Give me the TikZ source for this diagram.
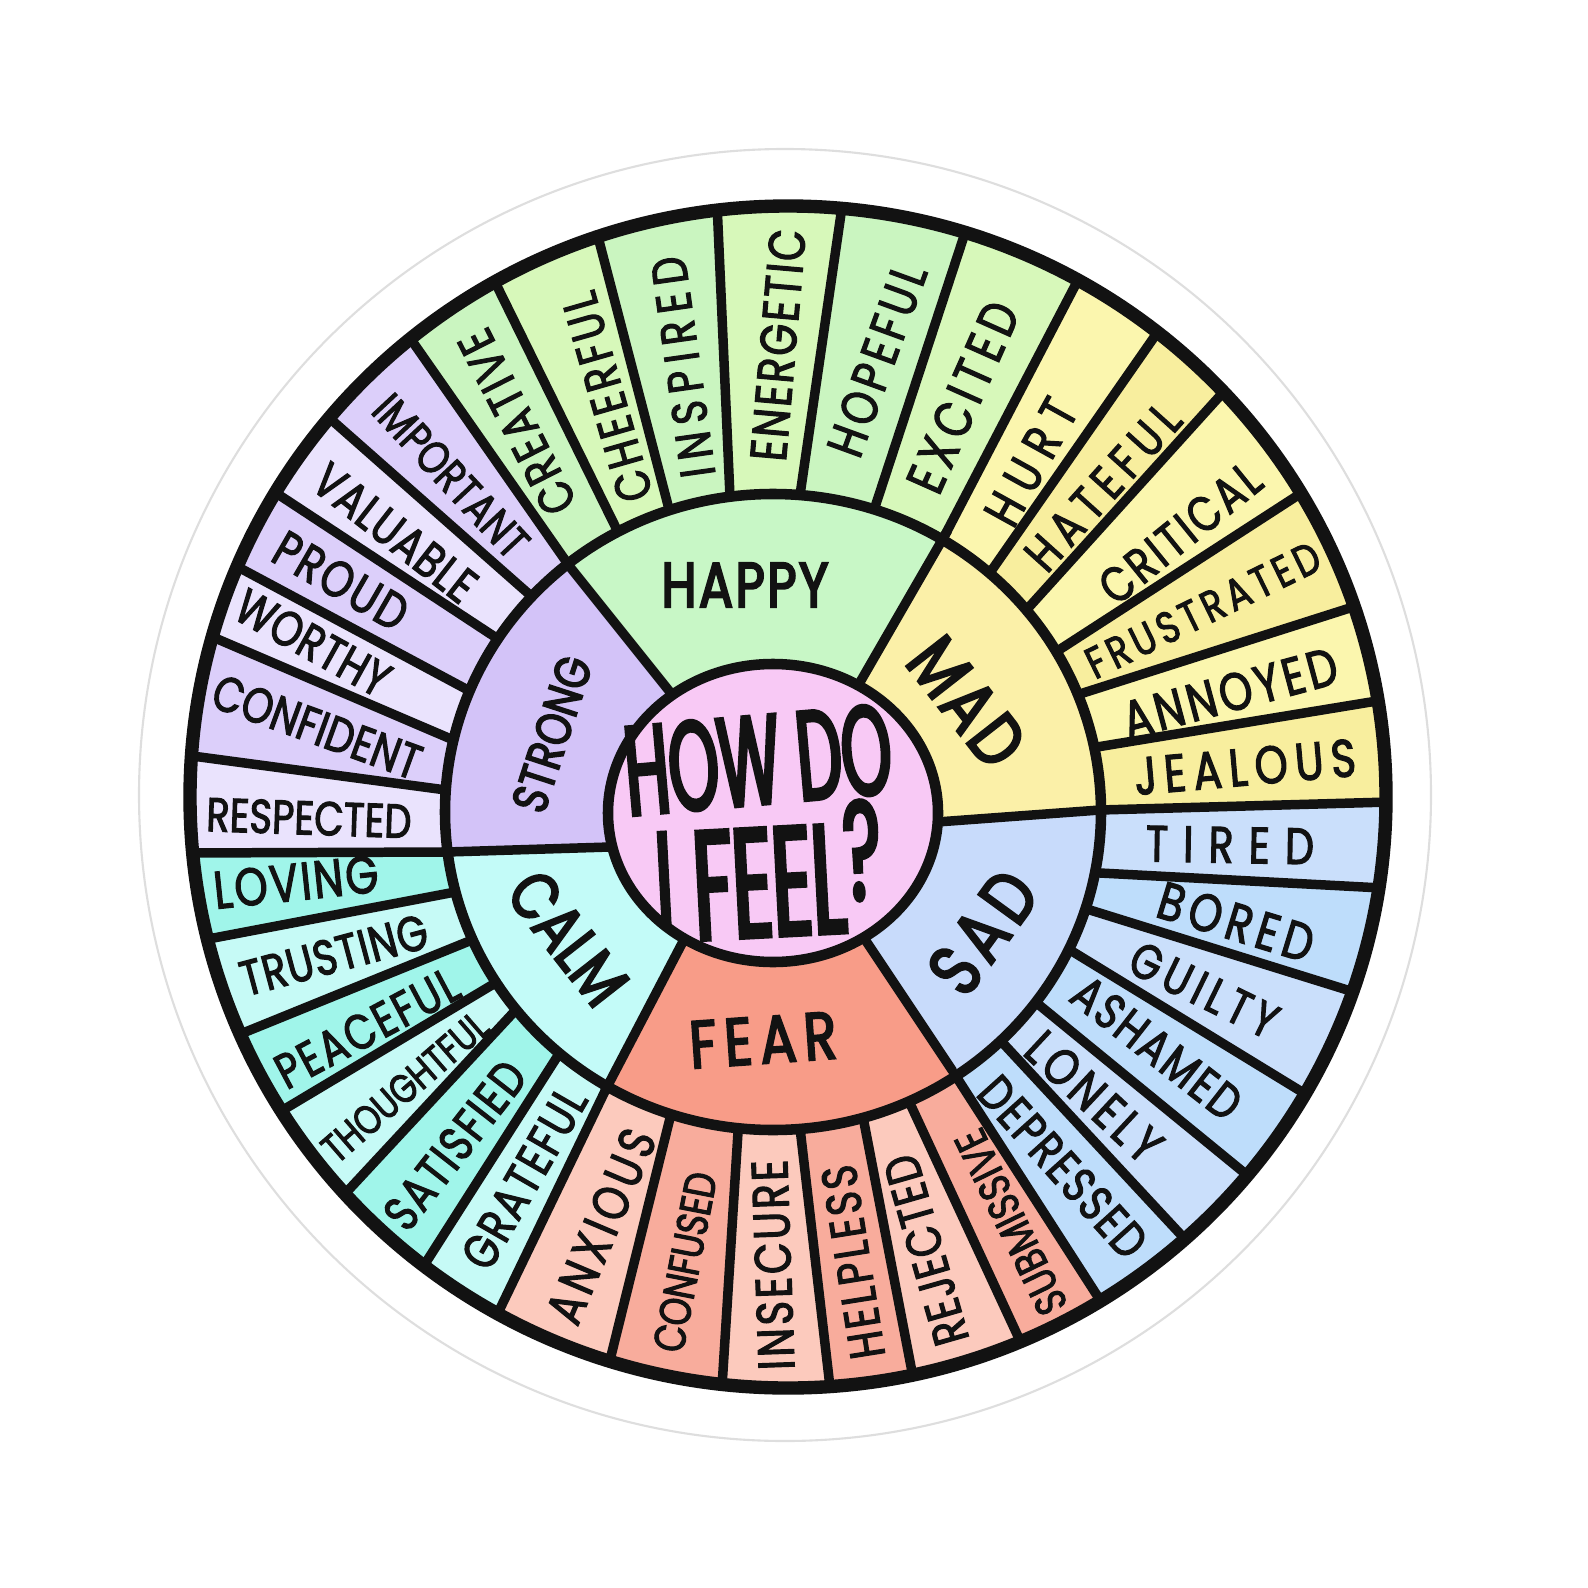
\documentclass[tikz,border=0pt]{standalone}
\usepackage{fontspec}
\setmainfont{Poppins}
\newfontfamily\handfont{Poppins}[FakeStretch=0.8, FakeBold=2.4]
\newfontfamily\moodfont{Poppins}[FakeStretch=0.8, FakeBold=3.4]
\newfontfamily\bighand{Poppins}[FakeStretch=0.5, FakeBold=3]
\usetikzlibrary{calc}

\definecolor{inkblack}{HTML}{121212}
\definecolor{happyA}{HTML}{D7F8BA}
\definecolor{happyB}{HTML}{CAF5C0}
\definecolor{happyMid}{HTML}{C8F7C6}
\definecolor{madA}{HTML}{FBF6AE}
\definecolor{madB}{HTML}{F8EE9E}
\definecolor{madMid}{HTML}{FBF0A8}
\definecolor{sadA}{HTML}{CADFFB}
\definecolor{sadB}{HTML}{BEDDFB}
\definecolor{sadMid}{HTML}{C8DBFB}
\definecolor{fearA}{HTML}{FCCABD}
\definecolor{fearB}{HTML}{F8AC9C}
\definecolor{fearMid}{HTML}{F89C88}
\definecolor{calmA}{HTML}{A0F5EA}
\definecolor{calmB}{HTML}{C6FAF6}
\definecolor{calmMid}{HTML}{C3FBF8}
\definecolor{strongA}{HTML}{DCCFFA}
\definecolor{strongB}{HTML}{EAE3FD}
\definecolor{strongMid}{HTML}{D3C3F8}
\definecolor{feelPink}{HTML}{F8C9F5}

% spread the letters of a word over a given length (in picture units)
\makeatletter
\newlength\wordnat
\newlength\wordgap
\newlength\pxunit \setlength\pxunit{0.01cm}
\newcount\wordcnt
\newcommand\spreadword[2]{%
\settowidth\wordnat{#1}%
\wordcnt=0 %
\@tfor\@ch:=#1\do{\advance\wordcnt by 1 }%
\advance\wordcnt by -1 %
\wordgap=#2\pxunit
\advance\wordgap by -\wordnat
\divide\wordgap by \wordcnt
\def\@sep{}%
\@tfor\@ch:=#1\do{\@sep\@ch\def\@sep{\kern\wordgap}}%
}
\makeatother

\begin{document}
\begin{tikzpicture}[
x=0.01cm, y=-0.01cm,
inkline/.style={draw=inkblack, line cap=round, line join=round},
spoke/.style={inkline, line width=2.7pt},
rim/.style={inkline, line width=3.8pt},
feeling/.style={text=inkblack, inner sep=0pt},
mood/.style={text=inkblack, inner sep=0pt},
question/.style={text=inkblack, inner sep=0pt}
]
\useasboundingbox (0,0) rectangle (1588,1588);

% =======================
% STICKER
% =======================

\draw[draw=black!13, line width=0.6pt, fill=white] (785,795) circle [radius=646];

% =======================
% SPOKES (inner end / outer end)
% =======================

\foreach \k/\ix/\iy/\ox/\oy in {
0/570/567/410/338, 1/618/532/496/284, 2/670/513/597/233,
3/730/497/717/203, 4/800/495/842/207, 5/875/507/965/233,
6/945/535/1078/280, 7/987/577/1157/333, 8/1030/606/1228/387,
9/1062/648/1303/492, 10/1083/693/1353/607, 11/1097/747/1383/700,
12/1100/810/1390/802, 13/1100/873/1382/888, 14/1090/910/1357/993,
15/1070/950/1307/1095, 16/1033/1000/1247/1175, 17/1000/1040/1183/1237,
18/950/1067/1100/1300, 19/907/1097/1022/1345, 20/863/1117/913/1377,
21/800/1128/830/1387, 22/738/1132/722/1387, 23/670/1118/610/1360,
24/607/1087/497/1315, 25/557/1057/423/1267, 26/513/1013/342/1197,
27/492/985/283/1110, 28/467/942/238/1035, 29/450/893/203/940,
30/447/852/183/853, 31/446/790/185/755, 32/451/739/208/635,
33/466/689/238/567, 34/495/637/273/491, 35/530/595/326/415}{
\coordinate (in\k) at (\ix,\iy);
\coordinate (out\k) at (\ox,\oy);
}
\coordinate (in36) at (in0);
\coordinate (out36) at (out0);

% hub ends of the six mood borders
\coordinate (ctr) at (773,812);
\foreach \j/\hx/\hy in {0/670/692, 1/863/677, 2/937/822, 3/870/947, 4/677/953, 5/610/847}
\coordinate (hub\j) at (\hx,\hy);
\coordinate (hub6) at (hub0);

% =======================
% OUTER RING (FEELINGS)
% =======================

\begin{scope}
\clip (788,797) ellipse [x radius=598, y radius=591];
\foreach \k/\col in {
0/happyB, 1/happyA, 2/happyB, 3/happyA, 4/happyB, 5/happyA,
6/madA, 7/madB, 8/madA, 9/madB, 10/madA, 11/madB,
12/sadA, 13/sadB, 14/sadA, 15/sadB, 16/sadA, 17/sadB,
18/fearB, 19/fearA, 20/fearB, 21/fearA, 22/fearB, 23/fearA,
24/calmB, 25/calmA, 26/calmB, 27/calmA, 28/calmB, 29/calmA,
30/strongB, 31/strongA, 32/strongB, 33/strongA, 34/strongB, 35/strongA}{
\pgfmathtruncatemacro\nxt{\k+1}
\fill[\col] ($(in\k)!-0.2!(out\k)$) -- ($(in\k)!1.2!(out\k)$)
-- ($(in\nxt)!1.2!(out\nxt)$) -- ($(in\nxt)!-0.2!(out\nxt)$) -- cycle;
}
\foreach \k in {0,...,35}
\draw[spoke] ($(in\k)!-0.1!(out\k)$) -- ($(in\k)!1.2!(out\k)$);
\end{scope}

% =======================
% MIDDLE RING (MOODS)
% =======================

\begin{scope}
\clip (773,812) ellipse [x radius=328, y radius=318];
\foreach \j/\col in {0/happyMid, 1/madMid, 2/sadMid, 3/fearMid, 4/calmMid, 5/strongMid}{
\pgfmathtruncatemacro\a{6*\j}
\pgfmathtruncatemacro\b{6*\j+3}
\pgfmathtruncatemacro\c{6*\j+6}
\pgfmathtruncatemacro\nj{\j+1}
\fill[\col] (ctr) -- ($(hub\j)!-0.3!(in\a)$) -- (in\a) -- (out\a) -- (out\b)
-- (out\c) -- (in\c) -- ($(hub\nj)!-0.3!(in\c)$) -- cycle;
}
\end{scope}

\foreach \j/\k in {0/0, 1/6, 2/12, 3/18, 4/24, 5/30}
\draw[spoke] ($(hub\j)!-0.2!(in\k)$) -- ($(hub\j)!1.03!(in\k)$);
\draw[inkline, line width=3pt] (773,812) ellipse [x radius=328, y radius=318];

% =======================
% CENTRE
% =======================

\draw[inkline, line width=3pt, fill=feelPink] (773,813) ellipse [x radius=165, y radius=149];
\draw[rim] (788,797) ellipse [x radius=598, y radius=591];

% =======================
% LABELS
% =======================

% word / x / y / angle / font size / length
\foreach \word/\px/\py/\ang/\fs/\len in {
CREATIVE/517/422/117/14/200, CHEERFUL/607/397/106/14/215, INSPIRED/683/367/98/14/222,
ENERGETIC/778/345/85/14.5/232, HOPEFUL/877/360/70/14.5/200, EXCITED/963/397/66/15/202,
HURT/1031/462/61/14.5/136, HATEFUL/1103/487/48/14/205, CRITICAL/1180/533/39/14/192,
FRUSTRATED/1203/610/26/12.5/255, ANNOYED/1230/693/15/15/220, JEALOUS/1245/767/5/15/222,
TIRED/1230/845/-1/14.5/168, BORED/1236/922/-17/15/160, GUILTY/1204/990/-26/14/158,
ASHAMED/1157/1048/-38/14/200, LONELY/1094/1097/-43/14.5/165, DEPRESSED/1063/1167/-48/14/225,
SUBMISSIVE/1011/1222/116/12.5/200, REJECTED/926/1250/106/14/195, HELPLESS/853/1262/99/14/195,
INSECURE/773/1265/92/14.5/210, CONFUSED/685/1262/79/12.5/182, ANXIOUS/601/1226/67/14.5/205,
GRATEFUL/524/1178/60/14/200, SATISFIED/455/1145/52/14/198, THOUGHTFUL/405/1087/41/11.5/205,
PEACEFUL/367/1028/28/14/200, TRUSTING/334/955/15/14/192, LOVING/296/882/6/15/165,
RESPECTED/309/818/-2/13.5/205, CONFIDENT/317/727/-20/14/218, WORTHY/313/643/-29/14/168,
PROUD/341/581/-30/14.5/146, VALUABLE/395/533/-38/14/192, IMPORTANT/451/476/-47/13/204}
\node[feeling, rotate=\ang, font={\handfont\fontsize{\fs}{\fs}\selectfont}] (\word) at (\px,\py)
{\expandafter\spreadword\expandafter{\word}{\len}};

\foreach \word/\px/\py/\ang/\fs/\len in {
HAPPY/745/585/0/18/167, MAD/967/702/-52/21/140, SAD/983/932/54/21/130,
FEAR/763/1040/4/19/147, CALM/568/938/-52/19/148, STRONG/552/734/72/14/160}
\node[mood, rotate=\ang, font={\moodfont\fontsize{\fs}{\fs}\selectfont}] (\word) at (\px,\py)
{\expandafter\spreadword\expandafter{\word}{\len}};

\node[question, rotate=5, font={\bighand\fontsize{36}{38}\selectfont}] (howdo) at (758,760) {HOW DO};
\node[question, rotate=3, anchor=base, font={\bighand\fontsize{44}{46}\selectfont}] (ifeel) at (772,936)
{\raisebox{4.5pt}{\fontsize{38}{38}\selectfont I} FEEL\raisebox{9pt}{\fontsize{40}{40}\selectfont ?}};

\end{tikzpicture}
\end{document}
